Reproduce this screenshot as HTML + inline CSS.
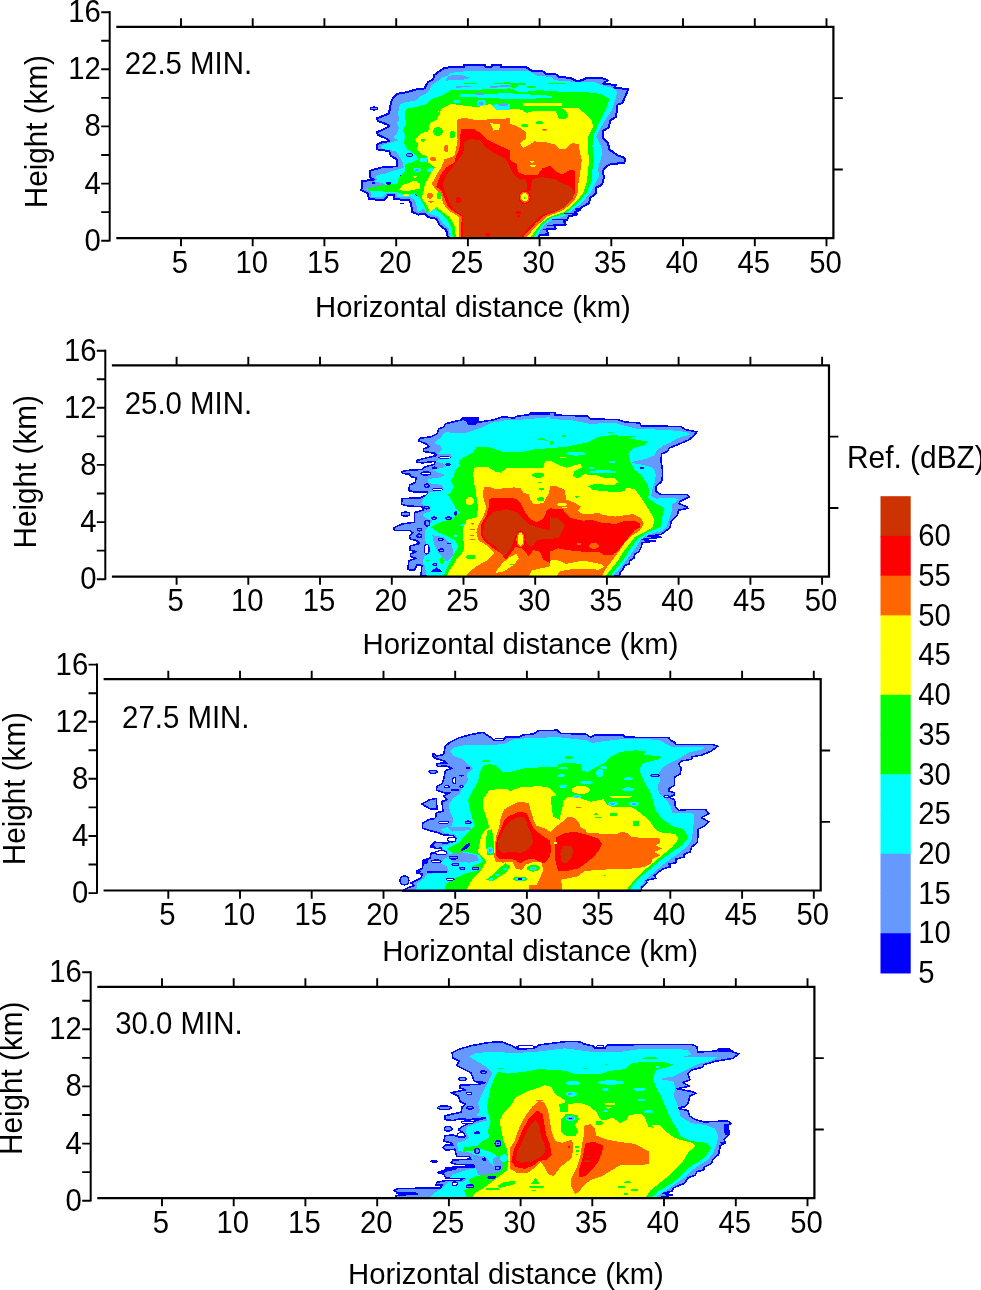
<!DOCTYPE html>
<html><head><meta charset="utf-8"><title>Radar reflectivity</title>
<style>html,body{margin:0;padding:0;background:#fff}svg{display:block}text{font-family:"Liberation Sans",sans-serif;font-size:29.3px;fill:#000}</style>
</head><body>
<svg width="981" height="1290" viewBox="0 0 981 1290">
<rect width="981" height="1290" fill="#fff"/>
<g id="panel1">
<g shape-rendering="crispEdges">
<path d="M444.6 67.7L464.2 66.7L464.2 64.8L485.4 64.8L485.4 66.7L491.9 66.7L491.9 64.5L500.9 64.5L500.9 66.7L510.0 67.2L526.3 67.2L531.2 70.5L542.6 71.3L545.9 73.8L557.3 74.6L558.9 77.0L570.3 77.8L576.9 81.1L581.8 80.3L586.7 77.8L601.3 77.8L607.9 80.3L603.0 83.5L616.0 85.2L614.4 87.6L628.2 89.3L624.2 99.0L622.5 103.1L617.6 104.7L616.0 117.0L610.3 120.2L608.7 127.6L603.0 130.8L603.0 138.2L607.9 143.1L609.5 149.6L617.6 155.3L624.2 157.8L625.0 160.0L625.0 160.0L624.2 162.9L611.1 164.1L606.2 166.5L603.0 170.6L603.8 177.9L602.2 184.5L596.4 187.7L595.6 193.4L589.9 198.3L589.1 203.2L581.8 207.3L580.1 209.7L575.2 212.2L576.9 214.6L568.7 216.3L567.1 220.3L563.8 221.2L565.5 224.4L554.0 225.2L555.7 228.5L546.7 229.3L548.3 234.2L539.4 235.0L538.5 238.0L447.9 238.0L446.2 230.1L439.7 225.2L436.4 218.7L428.3 217.1L425.0 213.8L418.5 214.6L412.8 212.2L412.0 212.0L411.2 203.2L408.7 200.0L394.0 199.2L394.0 195.1L388.3 195.1L384.3 200.0L368.8 199.2L367.9 193.4L361.4 190.2L362.2 181.2L373.6 179.6L369.6 177.1L370.4 170.6L382.6 167.3L397.3 166.5L396.5 159.2L390.8 155.9L389.1 151.0L376.9 149.4L376.9 144.5L382.6 142.1L389.1 141.3L388.3 139.6L377.7 134.7L376.9 132.3L382.6 129.8L389.1 126.6L388.3 124.9L377.7 120.9L376.9 118.4L382.6 116.0L389.1 113.5L390.0 107.0L390.0 108.8L390.8 102.3L393.2 97.4L397.3 93.8L403.8 92.8L411.2 90.9L416.9 89.3L425.0 88.4L425.8 85.2L428.3 81.9L433.2 79.5L434.0 75.4L438.1 72.1Z" fill="#6699ff" stroke="#0000ff" stroke-width="2.0" stroke-linejoin="round"/>
<ellipse cx="374.1" cy="108.5" rx="3.6" ry="1.3" fill="#6699ff" stroke="#0000ff" stroke-width="1.5"/>
<ellipse cx="402.2" cy="203.7" rx="2.4" ry="0.5" fill="#0000ff"/>
<path d="M510.0 70.5L464.2 71.3L451.1 72.9L447.9 75.4L441.3 77.8L438.1 81.1L431.5 85.2L429.9 89.3L426.7 93.3L420.1 96.6L415.2 100.7L405.5 102.3L400.6 103.9L398.9 107.0L398.1 115.2L399.7 119.2L396.5 123.3L398.9 128.2L397.3 133.1L393.2 137.2L398.1 140.4L382.6 144.8L380.2 147.0L382.6 149.1L395.7 151.0L398.9 155.9L402.2 160.8L403.8 167.3L397.3 169.8L384.3 169.8L372.8 172.2L372.0 176.3L377.7 178.8L374.5 182.0L365.5 183.7L364.7 188.5L370.4 191.0L371.2 196.7L382.6 197.5L386.7 192.6L396.5 192.6L397.3 197.5L410.3 196.7L415.2 200.8L416.9 208.1L418.5 212.0L423.4 208.9L428.3 213.8L438.1 216.3L443.0 223.6L448.7 228.5L450.3 238.0L536.9 238.0L539.4 231.8L545.1 224.4L552.4 219.5L563.8 216.3L572.0 210.6L578.5 205.7L585.0 199.1L590.7 192.6L594.8 184.5L598.9 176.3L598.1 168.2L600.5 160.0L600.5 160.0L602.2 152.9L601.3 146.3L596.4 136.5L601.3 126.8L606.2 118.6L611.9 110.5L614.4 102.3L617.6 91.7L614.4 88.4L601.3 85.2L594.8 81.9L575.2 81.9L555.7 80.3L550.8 77.0L536.1 75.4L529.6 71.3L510.0 70.5Z" fill="#00ffff"/>
<path d="M371.2 171.4L382.6 168.2L396.5 167.3L397.3 169.8L390.8 171.4L385.1 173.9L378.5 174.7L374.5 177.5L372.0 176.3Z" fill="#6699ff"/>
<path d="M364.7 183.7L374.5 181.7L382.6 182.8L387.5 186.9L376.1 187.2L367.9 188.5L364.7 188.5Z" fill="#6699ff"/>
<ellipse cx="402.5" cy="176.3" rx="2.9" ry="1.3" fill="#0000ff"/>
<ellipse cx="388.7" cy="183.3" rx="2.9" ry="1.6" fill="#0000ff"/>
<ellipse cx="373.6" cy="182.8" rx="1.6" ry="1.0" fill="#0000ff"/>
<ellipse cx="416.5" cy="194.7" rx="1.6" ry="1.0" fill="#0000ff"/>
<path d="M447.9 75.7L460.9 74.9L470.7 77.8L464.2 79.5L451.1 79.5L445.4 81.1Z" fill="#6699ff"/>
<path d="M456.0 86.0L470.7 85.7L470.7 87.3L456.0 87.6Z" fill="#6699ff"/>
<path d="M490.3 85.7L510.0 85.3L510.0 87.3L490.3 87.6Z" fill="#6699ff"/>
<path d="M464.2 83.4L477.2 83.1L477.2 84.4L464.2 84.5Z" fill="#00ff00"/>
<path d="M493.5 82.7L510.0 82.4L510.0 84.0L493.5 84.4Z" fill="#00ff00"/>
<path d="M510.0 83.1L524.7 83.4L524.7 84.5L510.0 84.5Z" fill="#00ff00"/>
<path d="M547.5 82.7L565.5 83.1L565.5 84.4L547.5 84.4Z" fill="#00ff00"/>
<ellipse cx="530.9" cy="87.1" rx="3.9" ry="1.3" fill="#00ff00"/>
<ellipse cx="514.1" cy="86.3" rx="4.1" ry="1.3" fill="#00ff00"/>
<path d="M510.0 88.4L488.6 89.3L464.2 90.1L451.1 90.1L441.3 95.8L431.5 99.0L426.7 103.9L415.2 107.2L406.3 108.8L406.3 107.0L404.6 115.2L406.3 123.3L403.0 129.8L405.5 136.4L403.8 142.9L407.1 149.4L415.2 154.3L418.5 159.2L412.0 162.5L405.5 164.1L404.6 172.2L398.9 177.1L397.3 183.7L382.6 185.3L367.9 188.5L368.8 191.0L390.8 191.8L398.9 192.6L403.8 195.1L415.2 193.4L420.1 198.3L423.4 204.9L426.7 212.0L434.8 208.9L441.3 213.8L447.9 220.3L451.9 228.5L452.8 238.0L533.6 238.0L536.9 231.8L543.4 223.6L550.8 217.9L565.5 213.8L573.6 206.5L580.1 200.8L586.7 192.6L591.5 181.2L592.4 169.8L594.0 160.0L594.0 160.0L592.4 146.3L593.2 136.5L598.1 125.1L601.3 118.6L606.2 108.8L609.5 99.0L601.3 94.1L583.4 91.7L558.9 91.7L539.4 90.1L519.8 92.5L510.0 88.4Z" fill="#00ff00"/>
<path d="M458.5 94.1L510.0 93.3L552.4 95.8L552.4 98.2L510.0 99.0L458.5 96.6Z" fill="#00ffff"/>
<ellipse cx="479.7" cy="94.1" rx="4.9" ry="0.8" fill="#6699ff"/>
<ellipse cx="456.8" cy="101.5" rx="3.6" ry="1.6" fill="#00ffff"/>
<ellipse cx="481.3" cy="103.1" rx="4.4" ry="3.6" fill="#00ffff"/>
<ellipse cx="481.3" cy="103.4" rx="2.4" ry="2.0" fill="#6699ff"/>
<path d="M491.9 104.7L510.0 103.6L510.0 109.6L495.2 109.6Z" fill="#00ffff"/>
<ellipse cx="503.3" cy="104.7" rx="4.9" ry="1.3" fill="#6699ff"/>
<ellipse cx="409.5" cy="155.1" rx="5.2" ry="2.6" fill="#00ffff"/>
<ellipse cx="409.5" cy="155.1" rx="3.3" ry="1.5" fill="#6699ff" stroke="#0000ff" stroke-width="1"/>
<ellipse cx="423.4" cy="160.0" rx="4.1" ry="2.4" fill="#00ffff"/>
<ellipse cx="416.9" cy="169.8" rx="4.1" ry="2.0" fill="#00ffff"/>
<ellipse cx="416.9" cy="169.8" rx="2.3" ry="1.0" fill="#6699ff"/>
<ellipse cx="430.7" cy="170.3" rx="4.1" ry="2.0" fill="#00ffff"/>
<path d="M510.0 109.6L496.8 110.5L490.3 103.9L477.2 107.2L464.2 105.6L451.1 103.9L441.3 108.8L438.9 117.0L438.1 107.0L438.9 115.2L436.4 120.0L429.9 123.3L428.3 131.5L421.8 133.1L415.2 139.6L418.5 144.5L416.9 149.4L421.8 154.3L426.7 155.9L428.3 162.5L434.8 167.3L431.5 172.2L428.3 178.8L425.0 183.7L423.4 191.8L421.8 198.3L426.7 204.9L429.9 212.0L436.4 207.3L443.0 212.2L449.5 217.1L454.4 225.2L456.0 238.0L530.4 238.0L534.5 231.8L541.8 222.8L549.1 217.1L563.8 212.2L570.3 207.3L578.5 199.1L583.4 192.6L586.7 182.8L588.0 171.4L589.1 160.0L589.1 160.0L587.5 146.3L588.3 136.5L593.2 126.8L591.5 120.2L586.7 115.3L578.5 108.0L560.6 108.0L565.5 110.5L568.7 115.3L565.5 118.6L558.9 118.6L555.7 111.3L536.1 110.5L526.3 112.9L521.4 109.6L510.0 108.8Z" fill="#ffff00"/>
<path d="M402.2 185.3L415.2 180.4L420.1 183.7L420.1 188.5L407.1 191.0L398.9 190.2Z" fill="#ffff00"/>
<path d="M523.0 103.1L562.2 103.4L562.2 105.6L523.0 105.6Z" fill="#ffff00"/>
<ellipse cx="415.2" cy="176.8" rx="2.4" ry="0.8" fill="#ffff00"/>
<ellipse cx="406.3" cy="195.1" rx="3.3" ry="1.0" fill="#ffff00"/>
<ellipse cx="438.1" cy="131.5" rx="4.9" ry="4.6" fill="#00ff00"/>
<ellipse cx="452.4" cy="134.7" rx="2.9" ry="3.6" fill="#00ff00"/>
<ellipse cx="423.1" cy="140.4" rx="2.4" ry="1.3" fill="#00ff00"/>
<ellipse cx="539.4" cy="122.7" rx="3.6" ry="1.6" fill="#00ff00"/>
<ellipse cx="524.7" cy="125.6" rx="3.3" ry="1.6" fill="#00ff00"/>
<ellipse cx="544.3" cy="129.7" rx="2.9" ry="1.0" fill="#ff6600"/>
<path d="M457.6 119.2L456.8 129.8L457.6 139.6L456.0 149.4L454.4 155.9L444.6 159.2L441.3 167.3L438.1 172.2L434.8 178.8L431.5 183.7L436.4 190.2L441.3 195.1L443.0 203.2L447.9 209.8L451.1 212.0L454.4 213.8L459.3 217.1L458.5 225.2L459.3 238.0L526.3 238.0L531.2 231.8L539.4 223.6L547.5 216.3L562.2 210.6L568.7 205.7L575.2 199.1L577.7 192.6L578.5 182.8L580.1 173.0L581.8 160.0L581.8 160.0L580.1 152.9L578.5 143.9L572.0 143.1L565.5 148.8L558.9 148.8L555.7 144.7L545.9 142.3L534.5 141.4L529.6 144.7L523.0 148.0L519.8 143.1L526.3 138.2L525.5 131.7L518.2 126.8L510.0 123.5L510.0 117.8L500.1 119.4L488.6 119.4L477.2 120.2L464.2 117.8Z" fill="#ff6600"/>
<path d="M490.3 123.3L500.1 124.1L499.2 129.8L493.5 130.6Z" fill="#ffff00"/>
<ellipse cx="446.2" cy="148.6" rx="2.1" ry="3.9" fill="#ff6600"/>
<ellipse cx="433.2" cy="159.2" rx="2.9" ry="2.3" fill="#ff6600"/>
<ellipse cx="429.9" cy="195.9" rx="2.9" ry="2.8" fill="#ff6600"/>
<ellipse cx="430.7" cy="201.6" rx="2.9" ry="1.0" fill="#ff6600"/>
<ellipse cx="438.9" cy="195.9" rx="2.3" ry="3.6" fill="#00ff00"/>
<path d="M460.9 129.0L460.1 139.6L459.3 149.4L456.0 155.9L454.4 162.5L446.2 167.3L441.3 173.9L438.1 180.4L436.4 186.9L441.3 190.2L444.6 198.3L447.9 206.5L454.4 212.0L457.6 213.8L462.5 217.1L460.9 225.2L460.9 238.0L522.2 238.0L527.9 231.8L536.1 222.8L544.6 215.5L558.9 210.2L566.3 205.3L572.5 198.8L574.9 192.6L575.2 179.6L574.4 169.5L570.3 169.8L562.2 174.7L555.7 171.4L550.8 165.7L542.6 168.2L537.7 174.7L526.3 175.5L518.2 172.2L516.5 164.1L510.0 160.0L510.0 150.2L496.8 144.5L487.0 139.6L480.5 133.1L474.0 129.0Z" fill="#ff0000"/>
<path d="M464.2 142.1L463.4 152.7L457.6 160.8L451.1 169.0L446.2 175.5L443.0 183.7L443.8 188.5L447.9 198.3L450.3 204.9L456.0 211.4L460.9 213.8L463.4 217.1L462.5 225.2L462.5 238.0L519.8 238.0L526.0 230.9L534.1 222.0L542.6 214.6L557.3 210.2L564.6 207.3L571.2 200.8L573.9 195.1L573.6 191.0L570.7 186.9L564.6 184.1L554.9 179.2L541.8 177.1L532.0 179.2L530.4 191.0L527.1 191.0L526.3 179.6L517.3 178.3L512.4 172.2L509.2 165.7L505.9 159.2L496.1 154.3L486.4 147.8L479.8 140.4L470.0 138.8Z" fill="#cc3300"/>
<ellipse cx="458.5" cy="200.0" rx="2.9" ry="2.8" fill="#ff0000"/>
<ellipse cx="487.8" cy="234.7" rx="2.6" ry="2.0" fill="#ff0000"/>
<ellipse cx="518.2" cy="212.5" rx="2.9" ry="2.0" fill="#ff0000"/>
<ellipse cx="518.5" cy="216.4" rx="1.6" ry="1.3" fill="#ff0000"/>
<ellipse cx="524.7" cy="197.2" rx="6.2" ry="6.9" fill="#ff0000"/>
<ellipse cx="524.7" cy="197.2" rx="4.9" ry="5.5" fill="#ff6600"/>
<ellipse cx="524.7" cy="197.2" rx="3.4" ry="3.9" fill="#ffff00"/>
<ellipse cx="524.7" cy="197.8" rx="0.8" ry="1.0" fill="#00ff00"/>
<ellipse cx="532.0" cy="161.6" rx="2.3" ry="1.1" fill="#ffff00"/>
<ellipse cx="532.8" cy="165.7" rx="2.9" ry="1.1" fill="#ffff00"/>
<path d="M552.4 218.9L567.9 219.0L567.9 220.0L552.4 220.2Z" fill="#0000ff"/>
<path d="M546.7 224.6L565.5 224.8L565.5 225.7L546.7 225.9Z" fill="#0000ff"/>
<path d="M543.4 228.7L555.7 228.8L555.7 229.8L543.4 230.0Z" fill="#0000ff"/>
<path d="M539.4 234.5L548.8 234.7L548.8 235.7L539.4 235.8Z" fill="#0000ff"/>
<path d="M563.8 213.2L577.7 213.3L577.7 214.3L563.8 214.5Z" fill="#0000ff"/>
<path d="M575.2 208.3L581.8 208.4L581.8 209.4L575.2 209.6Z" fill="#0000ff"/>
</g>
<g transform="translate(0 0)">
<path d="M109.7 11.2V241.4" stroke="#000" stroke-width="2" fill="none"/>
<path d="M101.2 12.2H109.7M101.2 40.8H109.7M101.2 69.3H109.7M101.2 97.9H109.7M101.2 126.4H109.7M101.2 155.0H109.7M101.2 183.6H109.7M101.2 212.1H109.7M101.2 240.7H109.7" stroke="#000" stroke-width="1.9" fill="none"/>
<path d="M116.3 26.8H833.4V238.1H116.3" stroke="#000" stroke-width="2.2" fill="none"/>
<path d="M181.0 18.3V26.8M181.0 238V246.3M252.7 18.3V26.8M252.7 238V246.3M324.4 18.3V26.8M324.4 238V246.3M396.2 18.3V26.8M396.2 238V246.3M467.9 18.3V26.8M467.9 238V246.3M539.6 18.3V26.8M539.6 238V246.3M611.3 18.3V26.8M611.3 238V246.3M683.0 18.3V26.8M683.0 238V246.3M754.8 18.3V26.8M754.8 238V246.3M826.5 18.3V26.8M826.5 238V246.3M833.4 98.1H842.8M833.4 169.5H842.8" stroke="#000" stroke-width="1.9" fill="none"/>
<text transform="translate(100.9 22.2) scale(1 1.065)" text-anchor="end">16</text>
<text transform="translate(100.9 79.3) scale(1 1.065)" text-anchor="end">12</text>
<text transform="translate(100.9 136.4) scale(1 1.065)" text-anchor="end">8</text>
<text transform="translate(100.9 193.6) scale(1 1.065)" text-anchor="end">4</text>
<text transform="translate(100.9 250.7) scale(1 1.065)" text-anchor="end">0</text>
<text transform="translate(180.0 272.9) scale(1 1.065)" text-anchor="middle">5</text>
<text transform="translate(251.7 272.9) scale(1 1.065)" text-anchor="middle">10</text>
<text transform="translate(323.4 272.9) scale(1 1.065)" text-anchor="middle">15</text>
<text transform="translate(395.2 272.9) scale(1 1.065)" text-anchor="middle">20</text>
<text transform="translate(466.9 272.9) scale(1 1.065)" text-anchor="middle">25</text>
<text transform="translate(538.6 272.9) scale(1 1.065)" text-anchor="middle">30</text>
<text transform="translate(610.3 272.9) scale(1 1.065)" text-anchor="middle">35</text>
<text transform="translate(682.0 272.9) scale(1 1.065)" text-anchor="middle">40</text>
<text transform="translate(753.8 272.9) scale(1 1.065)" text-anchor="middle">45</text>
<text transform="translate(825.5 272.9) scale(1 1.065)" text-anchor="middle">50</text>
</g>
<text transform="translate(124.7 74.1) scale(1.003 1.075)">22.5 MIN.</text>
<text x="472.9" y="316.7" text-anchor="middle">Horizontal distance (km)</text>
<text transform="translate(46.5 131.6) rotate(-90) scale(1.012 1.075)" text-anchor="middle">Height (km)</text>
</g>
<g id="panel2">
<g shape-rendering="crispEdges">
<path d="M550.0 412.3L530.3 412.8L528.6 414.8L517.2 416.1L514.0 418.0L502.5 416.7L494.4 419.7L484.6 421.3L478.9 422.1L478.1 417.7L462.6 417.7L461.8 420.0L455.2 421.3L445.5 423.8L443.8 427.0L438.9 428.6L437.3 433.5L430.8 436.8L419.4 438.4L418.5 440.9L425.1 443.3L429.1 446.6L423.4 449.0L423.4 451.5L434.0 453.1L436.5 455.6L422.6 458.8L416.9 460.5L416.9 462.1L422.6 462.9L435.7 461.3L434.0 464.5L424.3 467.0L422.6 469.4L409.6 470.2L401.4 471.5L403.0 473.5L409.6 474.3L411.2 476.8L416.1 477.6L415.3 482.5L409.6 484.9L408.8 490.6L416.1 492.3L427.5 492.1L427.5 494.6L420.2 497.8L402.2 498.6L401.4 504.4L407.9 506.0L422.6 506.8L423.4 510.1L414.5 512.5L414.5 522.3L402.2 523.9L393.3 528.0L394.9 530.5L409.6 530.5L412.8 532.9L409.6 536.2L410.4 539.4L416.1 540.2L419.4 543.5L410.4 545.9L409.6 550.0L416.1 551.7L410.4 554.1L410.4 556.5L416.1 558.2L408.8 560.6L407.9 569.6L414.5 570.4L416.9 564.7L421.8 565.5L421.0 576.1L619.3 576.1L620.1 572.9L622.6 569.6L625.0 565.5L629.1 563.9L629.9 560.6L634.0 558.2L634.8 554.1L638.9 551.7L641.3 546.8L642.2 542.7L655.2 541.1L641.3 539.4L660.9 537.3L647.9 536.2L660.9 534.5L664.2 532.1L669.9 528.0L671.5 520.7L677.2 515.0L678.8 510.1L687.8 508.4L687.0 506.8L678.8 503.5L680.5 501.1L689.4 497.0L687.0 494.6L660.9 494.6L656.0 491.3L656.0 486.4L661.7 481.5L662.5 475.0L662.5 470.2L660.9 460.5L661.7 453.9L667.4 451.5L669.1 448.2L678.8 444.1L688.6 440.1L693.5 436.0L696.8 431.9L685.4 429.5L680.5 426.5L641.3 425.9L639.7 422.9L625.0 422.1L618.5 419.7L590.8 418.9L587.5 416.1L554.9 415.1L554.9 412.8L550.0 412.3Z" fill="#6699ff" stroke="#0000ff" stroke-width="1.6" stroke-linejoin="round"/>
<ellipse cx="405.5" cy="514.1" rx="4.1" ry="2.0" fill="#6699ff" stroke="#0000ff" stroke-width="1.5"/>
<path d="M550.0 417.2L520.5 419.7L504.2 420.5L491.1 422.9L481.3 427.8L466.7 432.7L456.9 433.5L445.5 431.9L440.6 437.6L434.0 443.3L440.6 445.8L442.2 449.9L437.3 453.9L450.3 453.9L452.0 457.2L440.6 459.6L435.7 461.3L443.8 463.7L445.5 467.0L438.9 468.6L432.4 470.2L440.6 473.5L445.5 475.1L438.9 477.6L427.5 479.2L429.1 483.3L442.2 484.9L443.8 489.8L430.8 492.3L429.1 492.9L425.1 496.2L421.0 503.5L428.3 506.8L431.6 510.9L422.6 514.1L424.3 517.4L432.4 520.7L429.1 525.6L425.1 530.5L425.1 540.2L427.5 546.8L430.8 551.7L424.3 556.5L422.6 561.4L425.1 568.0L426.7 576.1L613.6 576.1L615.2 572.9L621.8 566.3L626.7 559.8L631.5 553.3L636.4 546.8L640.5 540.2L647.9 534.5L660.9 531.3L666.6 527.2L669.1 519.0L671.5 512.5L672.3 504.4L678.8 499.5L674.0 497.8L656.0 498.6L651.1 496.2L651.9 491.3L654.4 483.2L656.0 475.0L654.4 470.2L651.1 467.0L641.3 464.5L631.5 462.9L634.8 461.3L646.2 458.8L654.4 455.6L656.0 451.5L662.5 445.8L670.7 442.5L677.2 438.4L690.3 434.4L685.4 431.9L670.7 430.3L636.4 428.6L623.4 425.4L615.2 422.9L589.1 423.8L572.8 420.5L550.0 418.9Z" fill="#00ffff"/>
<path d="M432.4 535.3L443.8 537.0L452.0 545.1L453.6 554.9L447.1 561.4L438.9 553.3L434.0 543.5Z" fill="#6699ff"/>
<path d="M631.5 462.9L641.3 460.5L654.4 455.6L657.6 458.8L656.0 467.0L651.1 467.0L641.3 464.5Z" fill="#6699ff"/>
<path d="M550.0 448.2L536.8 449.0L520.5 452.3L504.2 452.3L494.4 449.0L487.9 446.6L476.4 447.4L473.2 452.3L463.4 457.2L458.5 461.3L460.1 465.3L455.2 470.2L453.6 476.8L450.3 480.0L453.6 486.5L450.3 493.1L447.9 494.6L452.0 501.1L455.2 507.6L460.1 512.5L452.0 519.0L440.6 522.3L430.8 527.2L437.3 532.1L445.5 535.3L455.2 540.2L458.5 546.8L455.2 551.7L452.0 558.2L448.7 564.7L445.5 571.2L443.8 576.1L610.3 576.1L616.9 568.0L623.4 559.8L628.3 551.7L633.2 545.1L638.1 538.6L647.9 532.1L660.9 527.2L662.5 515.8L664.2 507.6L654.4 502.7L647.9 497.8L649.5 492.9L647.9 484.8L641.3 475.0L634.8 470.2L629.9 460.5L628.3 453.9L633.2 448.2L644.6 445.0L647.9 441.7L628.3 438.4L638.1 436.0L626.7 436.0L612.0 435.2L598.9 436.8L587.5 442.5L566.3 446.6L550.0 448.2Z" fill="#00ff00"/>
<path d="M535.2 439.3L541.7 438.1L550.0 441.2L550.0 445.0L540.1 443.8L550.0 445.0L554.9 443.3L552.4 441.2L550.0 441.2Z" fill="#00ff00"/>
<ellipse cx="563.9" cy="436.0" rx="2.4" ry="1.0" fill="#00ff00"/>
<ellipse cx="610.3" cy="432.4" rx="2.9" ry="0.7" fill="#00ff00"/>
<ellipse cx="576.1" cy="453.6" rx="9.8" ry="2.0" fill="#00ffff"/>
<ellipse cx="612.0" cy="461.8" rx="3.6" ry="1.3" fill="#00ffff"/>
<ellipse cx="591.6" cy="467.8" rx="2.9" ry="1.0" fill="#00ffff"/>
<ellipse cx="603.0" cy="471.9" rx="13.9" ry="1.6" fill="#00ffff"/>
<ellipse cx="462.6" cy="525.2" rx="2.4" ry="1.3" fill="#00ffff"/>
<ellipse cx="455.7" cy="535.7" rx="2.0" ry="1.3" fill="#00ffff"/>
<ellipse cx="427.5" cy="560.6" rx="2.0" ry="1.0" fill="#00ff00"/>
<ellipse cx="442.2" cy="560.6" rx="2.4" ry="3.3" fill="#00ff00"/>
<path d="M550.0 460.5L544.9 461.3L543.3 467.8L528.6 467.8L507.4 467.8L500.9 472.7L496.0 471.9L487.9 467.0L474.8 467.0L473.2 473.5L474.0 483.3L476.4 493.1L476.4 496.2L478.1 507.6L476.4 517.4L466.7 519.9L463.4 527.2L463.4 540.2L464.2 548.4L461.8 553.3L456.9 558.2L453.6 564.7L448.7 571.2L447.1 576.1L605.5 576.1L612.0 568.0L618.5 559.8L623.4 551.7L629.9 543.5L634.8 537.0L644.6 532.1L652.8 527.2L654.4 519.0L649.5 510.9L644.6 502.7L638.9 494.6L634.8 488.9L626.7 488.0L618.5 481.5L615.2 478.4L603.8 477.6L595.7 475.1L584.3 474.3L577.7 478.4L572.8 475.9L574.5 471.1L581.8 467.8L581.0 463.7L574.5 465.3L566.3 467.8L559.8 465.3L550.0 460.5Z" fill="#ffff00"/>
<ellipse cx="469.9" cy="501.1" rx="4.1" ry="4.1" fill="#ffff00"/>
<ellipse cx="563.0" cy="457.7" rx="3.3" ry="0.8" fill="#ffff00"/>
<path d="M588.3 486.4L594.0 484.0L613.6 485.1L618.5 482.3L626.7 487.2L625.0 490.5L620.1 492.1L603.8 491.3L592.4 489.7Z" fill="#00ff00"/>
<ellipse cx="576.9" cy="496.7" rx="2.0" ry="1.0" fill="#00ff00"/>
<ellipse cx="470.7" cy="557.0" rx="4.9" ry="2.4" fill="#00ff00"/>
<ellipse cx="538.4" cy="475.1" rx="6.2" ry="2.6" fill="#00ff00"/>
<ellipse cx="540.1" cy="482.5" rx="2.4" ry="1.0" fill="#00ff00"/>
<ellipse cx="541.7" cy="489.3" rx="2.9" ry="1.3" fill="#00ff00"/>
<ellipse cx="540.9" cy="499.3" rx="3.6" ry="2.0" fill="#00ff00"/>
<ellipse cx="472.4" cy="523.9" rx="2.3" ry="0.7" fill="#ff6600"/>
<ellipse cx="472.4" cy="529.6" rx="2.3" ry="0.7" fill="#ff6600"/>
<ellipse cx="472.4" cy="535.3" rx="2.3" ry="0.7" fill="#ff6600"/>
<ellipse cx="472.4" cy="539.4" rx="2.3" ry="0.7" fill="#ff6600"/>
<path d="M483.8 486.5L487.9 486.5L496.0 489.0L514.0 487.4L520.5 488.2L523.7 493.1L528.6 493.9L530.3 499.6L533.5 504.5L543.3 502.9L549.0 493.1L550.0 486.4L554.9 485.6L564.7 489.7L566.3 499.5L574.5 502.7L581.0 506.8L577.7 510.9L582.6 514.1L592.4 514.1L597.3 512.5L603.8 515.0L615.2 516.6L626.7 515.0L633.2 514.1L641.3 518.2L643.8 523.9L639.7 530.5L632.4 535.3L625.4 541.9L620.1 550.0L615.2 556.5L610.3 563.1L605.5 568.8L602.2 576.1L466.7 576.1L468.3 572.9L476.4 566.3L487.9 559.8L494.4 553.3L486.2 545.1L478.1 540.2L476.4 532.1L478.9 523.9L483.0 517.4L486.2 507.6L483.0 496.2Z" fill="#ff6600"/>
<path d="M528.6 576.1L531.9 570.4L550.0 566.3L550.0 560.6L556.5 559.8L566.3 563.9L582.6 560.6L600.6 563.9L604.6 566.3L598.9 569.6L574.5 568.8L559.8 571.2L556.5 576.1Z" fill="#ffff00"/>
<path d="M496.0 572.9L496.0 571.2L502.5 563.1L510.7 556.5L516.4 554.1L518.8 558.2L514.0 564.7L504.2 571.2Z" fill="#ffff00"/>
<ellipse cx="562.2" cy="504.4" rx="4.9" ry="1.6" fill="#ffff00"/>
<ellipse cx="564.7" cy="507.6" rx="2.4" ry="0.8" fill="#ffff00"/>
<ellipse cx="512.3" cy="564.7" rx="2.0" ry="0.7" fill="#00ff00"/>
<path d="M489.5 498.6L504.2 497.8L515.6 498.6L520.5 503.5L525.4 512.5L530.3 519.0L536.8 522.3L543.3 519.0L546.6 510.9L550.0 508.4L550.0 508.4L563.0 509.3L566.3 514.1L571.2 518.2L582.6 520.7L592.4 519.9L598.9 522.3L615.2 523.9L623.4 521.5L634.8 520.7L639.7 523.1L640.5 527.2L634.5 530.5L628.8 537.0L623.7 543.5L618.5 550.0L612.8 554.9L603.8 554.9L598.9 551.7L582.6 551.7L566.3 550.0L558.2 548.4L550.0 551.7L550.0 563.1L543.3 559.8L540.1 551.7L533.5 550.0L528.6 556.5L525.4 551.7L520.5 546.8L515.6 546.8L510.7 553.3L505.8 559.8L500.9 553.3L491.1 546.8L483.8 540.2L480.5 533.7L481.3 523.9L486.2 515.8L488.7 507.6Z" fill="#ff0000"/>
<ellipse cx="594.0" cy="545.9" rx="4.9" ry="2.9" fill="#ff6600"/>
<ellipse cx="579.0" cy="544.3" rx="2.0" ry="1.3" fill="#ff6600"/>
<path d="M494.4 511.7L507.4 509.3L517.2 512.5L523.7 519.0L528.6 523.9L536.8 527.2L550.0 530.5L550.0 517.4L558.2 518.2L561.4 522.3L564.7 525.6L561.4 532.1L559.8 537.0L550.0 539.4L550.0 539.4L546.6 538.6L536.8 540.2L531.9 546.8L527.0 543.5L525.4 533.7L520.5 531.3L515.6 535.3L514.0 540.2L510.7 548.4L504.2 556.5L496.0 546.8L487.9 541.9L483.0 535.3L483.8 525.6L487.9 517.4Z" fill="#cc3300"/>
<ellipse cx="520.5" cy="539.4" rx="4.9" ry="9.0" fill="#ff0000"/>
<ellipse cx="520.5" cy="539.4" rx="4.1" ry="7.8" fill="#ff6600"/>
<ellipse cx="520.5" cy="539.4" rx="2.9" ry="6.5" fill="#ffff00"/>
<g fill="#fff">
<ellipse cx="444.6" cy="457.5" rx="5.7" ry="0.8" stroke="#0000ff" stroke-width="1.2"/>
<ellipse cx="425.9" cy="473.5" rx="4.9" ry="1.6" stroke="#0000ff" stroke-width="1.2"/>
<ellipse cx="437.3" cy="489.5" rx="4.9" ry="0.8" stroke="#0000ff" stroke-width="1.2"/>
<ellipse cx="434.4" cy="467.8" rx="2.0" ry="0.8" stroke="#0000ff" stroke-width="1.2"/>
<ellipse cx="426.7" cy="549.2" rx="2.4" ry="4.9" stroke="#0000ff" stroke-width="1.2"/>
</g>
<ellipse cx="447.9" cy="464.5" rx="2.9" ry="1.3" fill="#0000ff"/>
<ellipse cx="426.7" cy="485.7" rx="2.4" ry="1.6" fill="#6699ff" stroke="#0000ff" stroke-width="1.4"/>
<ellipse cx="426.7" cy="507.6" rx="2.4" ry="1.3" fill="#6699ff" stroke="#0000ff" stroke-width="1.4"/>
<ellipse cx="434.0" cy="518.2" rx="2.4" ry="1.1" fill="#6699ff" stroke="#0000ff" stroke-width="1.4"/>
<ellipse cx="448.7" cy="518.2" rx="2.9" ry="1.1" fill="#6699ff" stroke="#0000ff" stroke-width="1.4"/>
<ellipse cx="427.2" cy="523.1" rx="2.4" ry="2.9" fill="#6699ff" stroke="#0000ff" stroke-width="1.4"/>
<ellipse cx="419.4" cy="529.6" rx="2.0" ry="1.3" fill="#6699ff" stroke="#0000ff" stroke-width="1.4"/>
<ellipse cx="419.4" cy="535.7" rx="2.4" ry="1.6" fill="#6699ff" stroke="#0000ff" stroke-width="1.4"/>
<ellipse cx="440.6" cy="539.4" rx="2.4" ry="1.1" fill="#6699ff" stroke="#0000ff" stroke-width="1.4"/>
<ellipse cx="441.4" cy="550.4" rx="2.4" ry="1.3" fill="#6699ff" stroke="#0000ff" stroke-width="1.4"/>
<ellipse cx="434.9" cy="564.7" rx="2.0" ry="1.1" fill="#6699ff" stroke="#0000ff" stroke-width="1.4"/>
<ellipse cx="455.7" cy="513.3" rx="1.6" ry="2.3" fill="#0000ff"/>
<ellipse cx="448.7" cy="543.5" rx="2.0" ry="1.0" fill="#0000ff"/>
<path d="M430.0 572.0L436.5 567.2L443.0 572.0Z" fill="#0000ff"/>
<ellipse cx="642.2" cy="467.8" rx="2.4" ry="1.0" fill="#0000ff"/>
<path d="M462.6 417.7L478.1 417.7L478.9 422.1L474.8 425.4L468.3 425.4L466.7 422.1L462.6 420.0Z" fill="#0000ff"/>
<path d="M530.3 412.5L550.0 412.2L550.0 414.5L530.3 414.8Z" fill="#0000ff"/>
</g>
<g transform="translate(-4.4 338.5)">
<path d="M109.7 11.2V241.4" stroke="#000" stroke-width="2" fill="none"/>
<path d="M101.2 12.2H109.7M101.2 40.8H109.7M101.2 69.3H109.7M101.2 97.9H109.7M101.2 126.4H109.7M101.2 155.0H109.7M101.2 183.6H109.7M101.2 212.1H109.7M101.2 240.7H109.7" stroke="#000" stroke-width="1.9" fill="none"/>
<path d="M116.3 26.8H833.4V238.1H116.3" stroke="#000" stroke-width="2.2" fill="none"/>
<path d="M181.0 18.3V26.8M181.0 238V246.3M252.7 18.3V26.8M252.7 238V246.3M324.4 18.3V26.8M324.4 238V246.3M396.2 18.3V26.8M396.2 238V246.3M467.9 18.3V26.8M467.9 238V246.3M539.6 18.3V26.8M539.6 238V246.3M611.3 18.3V26.8M611.3 238V246.3M683.0 18.3V26.8M683.0 238V246.3M754.8 18.3V26.8M754.8 238V246.3M826.5 18.3V26.8M826.5 238V246.3M833.4 98.1H842.8M833.4 169.5H842.8" stroke="#000" stroke-width="1.9" fill="none"/>
<text transform="translate(100.9 22.2) scale(1 1.065)" text-anchor="end">16</text>
<text transform="translate(100.9 79.3) scale(1 1.065)" text-anchor="end">12</text>
<text transform="translate(100.9 136.4) scale(1 1.065)" text-anchor="end">8</text>
<text transform="translate(100.9 193.6) scale(1 1.065)" text-anchor="end">4</text>
<text transform="translate(100.9 250.7) scale(1 1.065)" text-anchor="end">0</text>
<text transform="translate(180.0 272.9) scale(1 1.065)" text-anchor="middle">5</text>
<text transform="translate(251.7 272.9) scale(1 1.065)" text-anchor="middle">10</text>
<text transform="translate(323.4 272.9) scale(1 1.065)" text-anchor="middle">15</text>
<text transform="translate(395.2 272.9) scale(1 1.065)" text-anchor="middle">20</text>
<text transform="translate(466.9 272.9) scale(1 1.065)" text-anchor="middle">25</text>
<text transform="translate(538.6 272.9) scale(1 1.065)" text-anchor="middle">30</text>
<text transform="translate(610.3 272.9) scale(1 1.065)" text-anchor="middle">35</text>
<text transform="translate(682.0 272.9) scale(1 1.065)" text-anchor="middle">40</text>
<text transform="translate(753.8 272.9) scale(1 1.065)" text-anchor="middle">45</text>
<text transform="translate(825.5 272.9) scale(1 1.065)" text-anchor="middle">50</text>
</g>
<text transform="translate(124.7 413.8) scale(1.003 1.075)">25.0 MIN.</text>
<text x="520.5" y="654.0" text-anchor="middle">Horizontal distance (km)</text>
<text transform="translate(35.9 471.8) rotate(-90) scale(1.012 1.075)" text-anchor="middle">Height (km)</text>
</g>
<g id="panel3">
<g shape-rendering="crispEdges">
<path d="M558.0 730.2L538.3 730.7L533.4 734.0L523.6 734.8L518.7 737.2L505.6 736.7L504.0 739.7L494.2 740.5L489.3 736.4L482.8 732.3L469.8 734.8L458.3 738.0L450.2 742.1L445.3 746.2L443.7 754.4L437.1 756.0L433.1 753.5L432.3 755.2L435.5 758.4L443.7 760.9L446.9 763.3L442.0 762.8L436.3 764.1L438.0 766.6L445.3 765.8L451.8 768.2L445.3 770.7L443.7 778.8L442.0 783.7L437.1 786.2L436.3 790.2L443.7 792.7L450.2 792.7L443.7 795.9L446.9 800.0L442.0 801.4L442.9 811.2L436.3 812.8L435.5 818.5L429.0 819.4L422.5 823.4L422.5 828.3L430.6 830.8L437.1 832.4L443.7 834.9L453.5 835.7L455.9 838.9L446.9 843.0L434.7 842.2L430.6 846.3L436.3 848.7L441.2 847.9L442.0 852.8L431.4 852.8L429.8 858.5L423.3 860.1L422.5 868.3L416.8 870.7L416.8 873.2L422.5 874.0L420.8 878.1L414.3 881.3L411.0 883.0L414.3 885.4L407.8 887.9L402.1 890.8L641.2 890.8L642.0 887.0L646.9 883.0L646.1 880.5L655.9 878.1L654.2 875.6L662.4 869.1L670.5 866.7L668.9 864.2L676.2 862.6L675.4 859.3L684.4 856.9L683.6 854.4L690.1 852.0L691.7 847.1L697.4 842.2L698.3 829.1L704.8 825.9L708.9 821.8L701.5 817.7L708.9 813.6L705.6 809.6L686.8 809.6L678.7 810.4L675.4 807.1L674.6 799.8L668.9 797.3L674.6 794.9L674.6 792.7L668.9 791.1L668.9 788.6L674.6 785.3L674.6 777.2L680.3 773.9L681.1 768.2L678.7 764.1L682.0 760.9L691.7 759.3L691.7 756.8L701.5 755.2L711.3 751.1L717.8 746.2L712.9 744.6L675.4 744.6L674.6 742.1L670.5 740.5L668.9 737.7L624.9 737.2L623.2 735.1L595.5 734.8L590.6 737.2L585.7 734.0L561.3 733.5L558.0 731.5Z" fill="#6699ff" stroke="#0000ff" stroke-width="1.6" stroke-linejoin="round"/>
<ellipse cx="433.1" cy="771.8" rx="4.1" ry="1.5" fill="#6699ff" stroke="#0000ff" stroke-width="1.4"/>
<path d="M421.6 804.1L429.0 800.0L436.3 798.4L437.1 809.0L430.6 809.0Z" fill="#6699ff" stroke="#0000ff" stroke-width="1.5" stroke-linejoin="round"/>
<ellipse cx="404.5" cy="880.5" rx="4.4" ry="4.4" fill="#6699ff" stroke="#0000ff" stroke-width="1.6"/>
<path d="M558.0 737.2L528.5 738.0L512.2 739.7L504.0 743.8L489.3 745.4L476.3 744.6L463.2 745.4L455.1 747.0L450.2 751.1L453.5 756.0L463.2 759.3L469.8 765.8L473.0 769.0L466.5 773.9L468.1 780.5L463.2 787.0L460.0 793.5L453.5 798.2L448.6 804.7L450.2 812.8L453.5 819.4L451.8 825.9L440.4 829.1L445.3 833.2L455.1 834.0L457.5 838.9L448.6 844.6L440.4 846.3L445.3 851.2L450.2 855.2L445.3 858.5L440.4 863.4L446.9 866.7L448.6 871.5L427.4 874.0L424.1 878.1L417.6 883.0L415.9 890.8L638.7 890.8L640.4 886.2L647.4 878.1L656.7 869.9L667.3 861.4L677.1 854.4L686.8 847.1L691.4 840.6L693.0 830.8L693.7 822.6L694.2 813.6L672.2 812.8L670.5 806.3L665.6 798.2L659.1 793.5L657.5 787.0L659.9 780.5L659.1 772.3L664.0 766.6L672.2 761.7L682.0 756.8L688.5 752.7L701.5 749.5L704.8 747.0L672.2 747.0L665.6 743.8L659.1 739.7L623.2 738.9L603.7 741.3L592.3 742.9L587.4 740.5L558.0 737.2Z" fill="#00ffff"/>
<path d="M446.9 826.7L469.8 826.7L471.4 830.0L451.8 831.6Z" fill="#6699ff"/>
<path d="M446.9 855.2L460.0 852.0L476.3 855.2L479.5 860.1L469.8 862.6L451.8 861.8Z" fill="#6699ff"/>
<path d="M458.3 843.8L469.8 838.9L474.7 842.2L466.5 850.3L460.0 852.0Z" fill="#6699ff"/>
<path d="M558.0 767.1L544.8 767.1L525.2 768.2L512.2 771.5L502.4 772.3L495.9 765.8L489.3 764.1L482.8 765.8L479.5 773.9L477.9 782.1L473.0 790.2L468.1 799.8L469.8 809.6L472.2 817.7L474.7 825.9L468.1 832.4L463.2 837.3L460.0 842.2L451.8 846.3L446.9 848.7L453.5 853.6L466.5 852.0L479.5 855.2L482.8 861.8L471.4 866.7L479.5 869.9L466.5 873.2L455.1 878.1L446.9 883.0L443.7 890.8L629.8 890.8L633.0 884.6L641.2 876.4L651.0 868.3L660.8 860.1L672.2 852.0L682.0 845.5L688.5 837.3L683.6 829.1L672.2 825.9L662.4 819.4L655.9 811.2L652.6 799.8L651.0 793.5L646.1 785.3L641.2 775.6L639.5 769.0L642.8 763.3L655.9 760.1L662.4 756.8L642.8 754.4L646.1 751.1L634.7 750.3L620.0 751.9L610.2 756.8L605.3 762.5L595.5 767.4L587.4 772.3L582.5 770.7L580.8 764.1L567.8 762.5L558.0 764.1Z" fill="#00ff00"/>
<ellipse cx="486.1" cy="761.2" rx="4.1" ry="1.0" fill="#00ff00"/>
<ellipse cx="568.6" cy="757.6" rx="4.1" ry="1.3" fill="#00ff00"/>
<ellipse cx="562.9" cy="768.2" rx="4.9" ry="1.3" fill="#00ffff"/>
<ellipse cx="561.3" cy="775.6" rx="4.1" ry="1.3" fill="#00ffff"/>
<ellipse cx="562.9" cy="786.2" rx="4.1" ry="1.6" fill="#00ffff"/>
<ellipse cx="586.5" cy="782.4" rx="6.2" ry="1.6" fill="#00ffff"/>
<ellipse cx="599.6" cy="773.1" rx="3.6" ry="4.1" fill="#00ffff"/>
<ellipse cx="603.7" cy="767.7" rx="3.3" ry="1.6" fill="#00ffff"/>
<ellipse cx="628.1" cy="778.8" rx="4.6" ry="1.6" fill="#00ffff"/>
<ellipse cx="628.1" cy="789.4" rx="6.2" ry="2.0" fill="#00ffff"/>
<ellipse cx="576.8" cy="796.8" rx="4.1" ry="1.6" fill="#00ffff"/>
<ellipse cx="612.6" cy="803.8" rx="4.9" ry="2.0" fill="#00ffff"/>
<ellipse cx="633.8" cy="803.8" rx="4.9" ry="2.0" fill="#00ffff"/>
<ellipse cx="576.8" cy="796.8" rx="2.0" ry="0.8" fill="#6699ff"/>
<ellipse cx="612.6" cy="803.8" rx="2.4" ry="1.0" fill="#6699ff"/>
<ellipse cx="633.8" cy="803.8" rx="2.4" ry="1.0" fill="#6699ff"/>
<path d="M489.3 790.2L502.4 788.6L512.2 790.2L522.0 787.0L539.9 786.2L549.7 787.8L558.0 796.8L558.0 798.4L564.5 800.0L567.8 796.8L580.8 798.4L590.6 801.7L603.7 799.2L606.9 804.9L613.5 807.4L629.8 806.5L636.3 809.8L644.4 816.3L651.0 822.9L655.9 830.0L660.8 832.4L675.4 834.0L678.7 838.9L672.2 847.1L662.4 855.2L652.6 863.4L642.8 871.5L634.7 879.7L628.1 887.9L626.5 890.8L466.5 890.8L469.8 883.0L474.7 876.4L481.2 869.9L486.1 861.8L482.8 856.9L477.9 852.0L479.5 843.8L481.2 835.7L484.4 830.8L489.3 827.5L486.9 819.4L483.6 809.6L482.8 799.8Z" fill="#ffff00"/>
<ellipse cx="580.8" cy="789.9" rx="9.0" ry="4.1" fill="#ffff00"/>
<ellipse cx="620.8" cy="796.8" rx="11.4" ry="1.3" fill="#ffff00"/>
<path d="M551.3 796.8L558.0 795.1L562.7 800.0L562.7 806.5L559.5 819.6L552.9 816.3L551.3 803.3Z" fill="#00ff00"/>
<path d="M486.9 830.8L491.8 829.1L493.4 838.9L494.2 855.2L486.9 855.2L486.1 842.2Z" fill="#00ff00"/>
<ellipse cx="490.2" cy="850.3" rx="3.3" ry="3.3" fill="#00ffff"/>
<ellipse cx="490.2" cy="850.3" rx="1.6" ry="1.6" fill="#6699ff"/>
<path d="M486.1 879.7L492.6 874.8L499.1 868.3L505.6 863.4L510.5 866.7L505.6 873.2L497.5 878.1L491.0 881.3Z" fill="#00ff00"/>
<ellipse cx="504.8" cy="868.8" rx="2.3" ry="1.3" fill="#00ffff"/>
<ellipse cx="497.5" cy="874.8" rx="2.3" ry="1.3" fill="#00ffff"/>
<ellipse cx="491.0" cy="879.4" rx="2.3" ry="1.3" fill="#00ffff"/>
<ellipse cx="533.4" cy="868.3" rx="6.5" ry="3.3" fill="#00ff00"/>
<ellipse cx="533.4" cy="868.6" rx="3.6" ry="1.6" fill="#00ffff"/>
<ellipse cx="533.4" cy="868.6" rx="1.6" ry="0.8" fill="#6699ff"/>
<ellipse cx="520.3" cy="878.9" rx="7.3" ry="2.4" fill="#00ff00"/>
<ellipse cx="520.3" cy="879.1" rx="4.6" ry="1.5" fill="#00ffff"/>
<ellipse cx="520.0" cy="879.1" rx="2.0" ry="0.8" fill="#0000ff"/>
<ellipse cx="613.5" cy="814.5" rx="3.6" ry="2.0" fill="#00ff00"/>
<ellipse cx="596.3" cy="814.1" rx="2.4" ry="0.7" fill="#00ff00"/>
<ellipse cx="598.0" cy="817.7" rx="2.9" ry="0.7" fill="#00ff00"/>
<ellipse cx="636.0" cy="823.4" rx="3.3" ry="2.9" fill="#00ff00"/>
<ellipse cx="604.5" cy="875.1" rx="1.6" ry="0.5" fill="#00ff00"/>
<ellipse cx="578.4" cy="807.5" rx="2.9" ry="0.7" fill="#ff6600"/>
<ellipse cx="533.4" cy="782.6" rx="2.0" ry="0.8" fill="#00ff00"/>
<ellipse cx="510.5" cy="790.2" rx="2.0" ry="0.8" fill="#00ff00"/>
<path d="M518.7 801.7L528.5 803.0L530.9 811.2L533.4 819.4L536.6 825.9L544.8 828.3L551.3 832.4L558.0 835.7L558.0 863.4L544.8 863.7L539.9 862.1L533.4 861.8L525.2 865.0L522.0 869.9L515.4 868.3L512.2 861.8L502.4 862.6L495.9 861.8L494.2 856.9L495.0 847.1L495.9 837.3L499.1 827.5L500.8 817.7L504.0 809.6L512.2 804.7Z" fill="#ff6600"/>
<path d="M554.7 827.5L561.3 822.6L567.8 816.9L574.3 817.7L579.2 822.6L580.8 827.5L585.7 830.0L587.4 833.2L616.7 834.0L621.6 831.6L628.1 833.2L631.4 837.3L659.1 838.1L660.8 842.2L655.9 845.5L662.4 848.7L654.2 852.0L660.8 855.2L652.6 858.5L651.0 863.4L644.4 866.7L637.9 868.3L595.5 869.9L584.1 871.5L577.6 876.4L561.3 879.7L562.1 890.8L528.5 890.8L528.5 885.4L536.6 884.6L539.9 878.1L543.2 869.9L541.5 863.4L544.8 860.1L551.3 855.2L552.9 847.1L551.3 838.9L549.7 832.4Z" fill="#ff6600"/>
<ellipse cx="533.4" cy="868.3" rx="6.5" ry="3.3" fill="#00ff00"/>
<ellipse cx="533.4" cy="868.6" rx="3.6" ry="1.6" fill="#00ffff"/>
<ellipse cx="533.4" cy="868.6" rx="1.6" ry="0.8" fill="#6699ff"/>
<ellipse cx="520.3" cy="878.9" rx="7.3" ry="2.4" fill="#00ff00"/>
<ellipse cx="520.3" cy="879.1" rx="4.6" ry="1.5" fill="#00ffff"/>
<ellipse cx="520.0" cy="879.1" rx="2.0" ry="0.8" fill="#0000ff"/>
<path d="M518.7 812.0L526.8 812.8L530.1 821.0L533.4 827.5L538.3 832.4L544.8 837.3L549.7 840.6L551.3 848.7L549.7 856.9L544.8 863.4L539.9 861.8L533.4 858.5L525.2 860.1L520.3 863.4L515.4 860.1L508.9 858.5L499.1 858.5L495.9 855.2L495.9 845.5L497.5 837.3L500.8 829.1L504.0 821.0L508.9 816.1Z" fill="#ff0000"/>
<path d="M556.4 837.3L564.5 833.2L574.3 831.6L587.4 834.9L598.8 838.9L602.0 843.8L598.8 850.3L593.9 856.9L587.4 861.8L579.2 868.3L567.8 870.7L558.0 870.7L555.6 861.8L554.7 850.3Z" fill="#ff0000"/>
<path d="M518.7 816.9L525.2 817.7L527.7 825.9L530.9 832.4L533.4 842.2L528.5 848.7L522.0 852.8L512.2 852.0L502.4 852.8L497.5 848.7L498.3 840.6L502.4 832.4L505.6 825.9L510.5 821.0Z" fill="#cc3300"/>
<path d="M562.9 845.5L571.0 846.3L573.5 850.3L571.0 858.5L566.2 863.4L561.3 861.8L560.4 853.6Z" fill="#cc3300"/>
<ellipse cx="555.4" cy="843.0" rx="1.3" ry="1.3" fill="#ffff00"/>
<ellipse cx="454.3" cy="780.5" rx="1.6" ry="2.9" fill="#fff" stroke="#0000ff" stroke-width="1.2"/>
<ellipse cx="446.9" cy="786.7" rx="2.4" ry="1.0" fill="#fff" stroke="#0000ff" stroke-width="1.2"/>
<ellipse cx="461.6" cy="786.7" rx="1.6" ry="1.0" fill="#fff" stroke="#0000ff" stroke-width="1.2"/>
<ellipse cx="443.7" cy="822.4" rx="4.9" ry="1.3" fill="#fff" stroke="#0000ff" stroke-width="1.2"/>
<ellipse cx="499.1" cy="739.4" rx="4.9" ry="0.8" fill="#fff" stroke="#0000ff" stroke-width="1.2"/>
<ellipse cx="451.8" cy="839.7" rx="4.1" ry="2.3" fill="#fff" stroke="#0000ff" stroke-width="1.2"/>
<ellipse cx="441.2" cy="852.8" rx="5.7" ry="2.0" fill="#fff" stroke="#0000ff" stroke-width="1.2"/>
<ellipse cx="436.3" cy="861.3" rx="4.9" ry="1.3" fill="#fff" stroke="#0000ff" stroke-width="1.2"/>
<ellipse cx="437.1" cy="871.9" rx="9.8" ry="0.8" fill="#fff" stroke="#0000ff" stroke-width="1.2"/>
<ellipse cx="450.2" cy="879.4" rx="4.1" ry="0.8" fill="#fff" stroke="#0000ff" stroke-width="1.2"/>
<ellipse cx="666.5" cy="796.4" rx="2.9" ry="0.8" fill="#fff" stroke="#0000ff" stroke-width="1.2"/>
<ellipse cx="468.1" cy="767.9" rx="2.0" ry="1.0" fill="#0000ff"/>
<ellipse cx="461.6" cy="775.6" rx="2.4" ry="1.0" fill="#0000ff"/>
<ellipse cx="455.1" cy="790.2" rx="4.1" ry="1.3" fill="#0000ff"/>
<ellipse cx="432.3" cy="846.8" rx="2.4" ry="1.6" fill="#0000ff"/>
<ellipse cx="424.9" cy="861.8" rx="3.3" ry="2.0" fill="#0000ff"/>
<ellipse cx="418.4" cy="871.5" rx="2.9" ry="1.3" fill="#0000ff"/>
<ellipse cx="468.1" cy="822.4" rx="2.9" ry="1.3" fill="#6699ff" stroke="#0000ff" stroke-width="1.4"/>
<ellipse cx="453.5" cy="857.7" rx="4.1" ry="1.3" fill="#6699ff" stroke="#0000ff" stroke-width="1.4"/>
<ellipse cx="455.1" cy="864.5" rx="3.3" ry="1.1" fill="#6699ff" stroke="#0000ff" stroke-width="1.4"/>
<ellipse cx="462.4" cy="868.3" rx="2.4" ry="1.1" fill="#6699ff" stroke="#0000ff" stroke-width="1.4"/>
<ellipse cx="475.5" cy="868.3" rx="3.3" ry="1.1" fill="#6699ff" stroke="#0000ff" stroke-width="1.4"/>
<ellipse cx="655.0" cy="775.6" rx="4.1" ry="1.1" fill="#6699ff" stroke="#0000ff" stroke-width="1.4"/>
<ellipse cx="465.7" cy="847.1" rx="5.7" ry="1.8" fill="#0000ff" transform="rotate(-38 465.7 847.1)"/>
</g>
<g transform="translate(-12.7 652.4)">
<path d="M109.7 11.2V241.4" stroke="#000" stroke-width="2" fill="none"/>
<path d="M101.2 12.2H109.7M101.2 40.8H109.7M101.2 69.3H109.7M101.2 97.9H109.7M101.2 126.4H109.7M101.2 155.0H109.7M101.2 183.6H109.7M101.2 212.1H109.7M101.2 240.7H109.7" stroke="#000" stroke-width="1.9" fill="none"/>
<path d="M116.3 26.8H833.4V238.1H116.3" stroke="#000" stroke-width="2.2" fill="none"/>
<path d="M181.0 18.3V26.8M181.0 238V246.3M252.7 18.3V26.8M252.7 238V246.3M324.4 18.3V26.8M324.4 238V246.3M396.2 18.3V26.8M396.2 238V246.3M467.9 18.3V26.8M467.9 238V246.3M539.6 18.3V26.8M539.6 238V246.3M611.3 18.3V26.8M611.3 238V246.3M683.0 18.3V26.8M683.0 238V246.3M754.8 18.3V26.8M754.8 238V246.3M826.5 18.3V26.8M826.5 238V246.3M833.4 98.1H842.8M833.4 169.5H842.8" stroke="#000" stroke-width="1.9" fill="none"/>
<text transform="translate(100.9 22.2) scale(1 1.065)" text-anchor="end">16</text>
<text transform="translate(100.9 79.3) scale(1 1.065)" text-anchor="end">12</text>
<text transform="translate(100.9 136.4) scale(1 1.065)" text-anchor="end">8</text>
<text transform="translate(100.9 193.6) scale(1 1.065)" text-anchor="end">4</text>
<text transform="translate(100.9 250.7) scale(1 1.065)" text-anchor="end">0</text>
<text transform="translate(180.0 272.9) scale(1 1.065)" text-anchor="middle">5</text>
<text transform="translate(251.7 272.9) scale(1 1.065)" text-anchor="middle">10</text>
<text transform="translate(323.4 272.9) scale(1 1.065)" text-anchor="middle">15</text>
<text transform="translate(395.2 272.9) scale(1 1.065)" text-anchor="middle">20</text>
<text transform="translate(466.9 272.9) scale(1 1.065)" text-anchor="middle">25</text>
<text transform="translate(538.6 272.9) scale(1 1.065)" text-anchor="middle">30</text>
<text transform="translate(610.3 272.9) scale(1 1.065)" text-anchor="middle">35</text>
<text transform="translate(682.0 272.9) scale(1 1.065)" text-anchor="middle">40</text>
<text transform="translate(753.8 272.9) scale(1 1.065)" text-anchor="middle">45</text>
<text transform="translate(825.5 272.9) scale(1 1.065)" text-anchor="middle">50</text>
</g>
<text transform="translate(122.1 728.4) scale(1.003 1.075)">27.5 MIN.</text>
<text x="540.1" y="961.3" text-anchor="middle">Horizontal distance (km)</text>
<text transform="translate(25.2 788.6) rotate(-90) scale(1.012 1.075)" text-anchor="middle">Height (km)</text>
</g>
<g id="panel4">
<g shape-rendering="crispEdges">
<path d="M568.0 1041.3L553.5 1043.1L539.1 1044.9L533.7 1048.5L517.6 1049.0L512.2 1045.8L501.4 1041.8L488.9 1042.5L470.9 1045.8L458.4 1049.4L452.1 1052.9L453.0 1058.3L459.3 1061.0L456.6 1065.5L463.8 1069.1L470.9 1072.7L474.5 1081.6L485.3 1082.5L478.1 1084.3L460.2 1085.2L459.3 1087.9L465.6 1089.7L451.2 1092.7L458.4 1096.3L460.2 1101.7L465.6 1104.4L462.0 1107.0L461.1 1112.4L451.2 1114.2L444.9 1116.0L444.9 1119.6L453.0 1120.5L460.2 1118.7L469.1 1119.6L485.3 1117.8L470.9 1122.3L462.0 1126.8L458.4 1129.5L463.8 1133.1L465.6 1136.6L460.2 1137.5L453.0 1134.9L444.9 1135.7L444.0 1141.1L451.2 1142.9L453.0 1145.6L445.8 1144.7L443.1 1147.4L445.8 1150.1L454.8 1149.2L456.6 1156.4L469.1 1156.7L470.9 1159.1L453.0 1160.0L451.2 1162.7L456.6 1164.5L476.3 1165.0L476.3 1166.8L458.4 1167.1L445.8 1167.5L444.9 1169.8L451.2 1170.4L442.2 1171.1L437.7 1172.5L444.0 1174.3L445.8 1177.9L463.8 1178.3L460.2 1180.6L445.8 1180.6L436.9 1182.4L436.0 1185.1L442.2 1185.1L440.4 1187.8L415.3 1188.3L397.4 1188.7L393.8 1190.5L397.4 1192.6L415.3 1193.2L417.1 1194.1L401.0 1195.0L395.6 1195.9L395.6 1198.4L655.7 1198.4L671.9 1195.0L662.9 1193.2L671.9 1191.4L673.6 1187.8L684.4 1183.3L688.0 1177.9L695.2 1175.2L697.0 1171.6L704.1 1169.8L704.1 1167.1L711.3 1163.6L713.1 1159.1L718.5 1154.6L720.3 1145.6L725.7 1142.9L723.9 1139.3L729.3 1134.0L725.7 1126.8L731.1 1123.2L727.5 1120.9L704.1 1121.9L695.2 1119.6L689.8 1116.0L688.0 1110.6L675.4 1107.9L684.4 1107.0L688.0 1103.5L689.8 1096.0L696.1 1093.3L691.6 1091.5L677.2 1088.8L689.8 1086.1L682.6 1082.5L689.8 1079.9L688.0 1073.6L691.6 1070.0L702.4 1067.3L704.1 1064.6L716.7 1061.0L732.9 1058.3L739.1 1053.8L732.9 1052.0L729.3 1048.5L718.5 1048.5L716.7 1051.1L697.9 1052.0L697.0 1046.7L691.6 1044.3L607.3 1044.9L604.6 1048.5L595.6 1048.5L592.9 1045.8L583.9 1044.0L580.4 1041.8L566.0 1041.3Z" fill="#6699ff" stroke="#0000ff" stroke-width="1.6" stroke-linejoin="round"/>
<ellipse cx="462.5" cy="1079.0" rx="3.9" ry="1.6" fill="#6699ff" stroke="#0000ff" stroke-width="1.4"/>
<ellipse cx="444.4" cy="1107.7" rx="6.8" ry="1.8" fill="#6699ff" stroke="#0000ff" stroke-width="1.4"/>
<ellipse cx="448.2" cy="1128.8" rx="3.9" ry="2.2" fill="#6699ff" stroke="#0000ff" stroke-width="1.4"/>
<path d="M568.0 1047.9L535.5 1052.0L514.0 1052.9L492.5 1052.0L476.3 1052.9L469.1 1056.5L478.1 1061.9L487.1 1067.3L492.5 1073.6L488.9 1079.9L485.3 1087.0L481.7 1094.2L478.1 1103.5L479.9 1110.6L476.3 1116.0L485.3 1116.9L487.1 1120.5L476.3 1123.2L467.4 1126.8L465.6 1132.2L469.1 1137.5L463.8 1141.1L456.6 1142.9L458.4 1151.0L470.9 1152.8L474.5 1155.5L470.9 1158.2L478.1 1161.8L481.7 1167.1L467.4 1169.8L453.0 1174.3L449.4 1177.9L467.4 1177.9L463.8 1181.5L447.6 1182.4L444.0 1186.9L436.9 1191.4L427.9 1198.4L653.9 1198.4L662.9 1192.3L673.6 1185.1L684.4 1177.9L691.6 1170.7L698.8 1165.4L707.7 1160.0L713.1 1152.8L716.7 1143.8L718.5 1135.7L714.9 1128.6L705.9 1125.0L691.6 1123.2L680.8 1116.9L677.2 1104.4L677.2 1103.2L673.6 1096.0L675.4 1088.8L673.6 1081.6L659.3 1079.0L673.6 1076.3L680.8 1072.7L691.6 1067.3L698.8 1063.7L709.5 1061.0L718.5 1056.5L709.5 1057.4L684.4 1056.5L691.6 1054.7L688.0 1050.2L673.6 1048.5L637.8 1049.4L619.8 1052.0L592.9 1052.0L566.0 1048.5Z" fill="#00ffff"/>
<path d="M472.7 1154.6L485.3 1156.4L492.5 1165.4L499.6 1170.7L497.9 1177.9L487.1 1179.7L478.1 1174.3L474.5 1165.4Z" fill="#6699ff"/>
<path d="M568.0 1070.9L553.5 1070.0L539.1 1069.1L524.8 1071.8L508.6 1073.6L497.9 1071.8L494.3 1078.1L490.7 1087.0L488.9 1096.0L487.1 1107.0L488.9 1116.0L490.7 1121.4L488.0 1130.4L488.9 1137.5L481.7 1142.0L478.1 1145.6L463.8 1147.4L462.9 1151.9L470.9 1151.0L481.7 1149.2L492.5 1152.8L499.6 1158.2L501.4 1165.4L497.9 1172.5L488.9 1174.3L476.3 1176.1L469.1 1179.7L470.9 1186.9L463.8 1190.5L467.4 1198.4L650.3 1198.4L659.3 1190.5L671.9 1183.3L680.8 1176.1L689.8 1167.1L698.8 1161.8L705.9 1156.4L711.3 1147.4L705.9 1142.9L691.6 1141.1L680.8 1136.6L677.2 1128.6L671.9 1121.4L668.3 1113.3L664.7 1105.0L661.1 1096.0L655.7 1087.0L653.0 1078.1L655.7 1070.0L666.5 1067.3L673.6 1064.6L662.9 1061.9L641.4 1061.9L630.6 1063.7L625.2 1069.1L609.1 1070.9L601.9 1073.6L583.9 1074.5L573.2 1073.6L566.0 1070.9Z" fill="#00ff00"/>
<ellipse cx="650.3" cy="1058.3" rx="8.1" ry="1.1" fill="#00ff00"/>
<ellipse cx="584.8" cy="1068.7" rx="2.2" ry="0.7" fill="#00ff00"/>
<ellipse cx="606.4" cy="1064.6" rx="1.8" ry="0.7" fill="#00ff00"/>
<ellipse cx="500.5" cy="1068.7" rx="3.2" ry="0.7" fill="#00ff00"/>
<ellipse cx="573.2" cy="1083.1" rx="7.2" ry="2.2" fill="#00ffff"/>
<ellipse cx="610.9" cy="1082.5" rx="13.5" ry="2.2" fill="#00ffff"/>
<ellipse cx="605.5" cy="1089.4" rx="3.6" ry="1.3" fill="#00ffff"/>
<ellipse cx="639.6" cy="1089.4" rx="6.3" ry="1.8" fill="#00ffff"/>
<ellipse cx="571.4" cy="1094.2" rx="5.4" ry="2.7" fill="#00ffff"/>
<ellipse cx="641.4" cy="1099.9" rx="3.9" ry="1.4" fill="#00ffff"/>
<ellipse cx="648.5" cy="1111.6" rx="4.5" ry="1.8" fill="#00ffff"/>
<ellipse cx="657.5" cy="1066.9" rx="2.2" ry="0.9" fill="#00ffff"/>
<ellipse cx="605.5" cy="1111.2" rx="2.7" ry="0.9" fill="#00ffff"/>
<ellipse cx="569.6" cy="1093.8" rx="2.2" ry="1.1" fill="#6699ff"/>
<ellipse cx="504.1" cy="1158.2" rx="3.9" ry="3.9" fill="#00ffff"/>
<path d="M492.5 1158.2L499.6 1156.4L503.2 1165.4L499.6 1172.5L494.3 1168.9Z" fill="#6699ff"/>
<path d="M524.8 1092.4L535.5 1088.8L544.5 1085.2L551.7 1087.0L555.3 1094.2L564.2 1099.6L566.0 1104.1L580.4 1102.8L589.3 1105.9L596.5 1112.1L600.1 1119.3L605.5 1120.2L612.6 1117.5L619.8 1122.9L627.0 1119.3L628.8 1114.8L641.4 1113.9L644.9 1117.5L648.5 1126.5L653.9 1128.3L652.1 1124.7L659.3 1124.7L666.5 1131.9L673.6 1137.3L680.8 1140.0L691.6 1142.6L695.2 1146.2L688.0 1152.8L682.6 1161.8L673.6 1170.7L668.3 1176.1L659.3 1183.3L650.3 1190.5L644.9 1198.4L470.9 1198.4L476.3 1192.3L485.3 1186.9L492.5 1181.5L499.6 1176.1L506.8 1170.7L508.6 1161.8L506.8 1149.2L503.2 1140.2L501.4 1130.4L499.6 1120.5L503.2 1113.3L510.4 1106.1L515.8 1097.2Z" fill="#ffff00"/>
<ellipse cx="610.0" cy="1104.1" rx="5.0" ry="1.4" fill="#ffff00"/>
<ellipse cx="608.2" cy="1107.7" rx="2.7" ry="0.9" fill="#ffff00"/>
<path d="M566.0 1113.9L576.8 1114.8L579.5 1119.3L575.0 1124.7L578.6 1131.9L575.0 1136.4L566.0 1135.5L560.6 1131.9L561.5 1119.3Z" fill="#00ff00"/>
<ellipse cx="570.5" cy="1118.4" rx="5.0" ry="2.5" fill="#00ffff"/>
<ellipse cx="570.5" cy="1118.4" rx="3.6" ry="1.8" fill="#6699ff"/>
<ellipse cx="570.5" cy="1118.4" rx="1.8" ry="0.9" fill="#0000ff"/>
<ellipse cx="599.2" cy="1122.9" rx="3.6" ry="2.2" fill="#00ff00"/>
<path d="M558.9 1104.1L568.0 1102.3L568.0 1112.1L560.6 1112.1Z" fill="#00ff00"/>
<ellipse cx="627.9" cy="1182.4" rx="3.6" ry="1.1" fill="#00ff00"/>
<ellipse cx="621.6" cy="1186.9" rx="3.6" ry="1.1" fill="#00ff00"/>
<ellipse cx="634.2" cy="1190.1" rx="3.6" ry="1.4" fill="#00ff00"/>
<ellipse cx="626.1" cy="1194.1" rx="2.2" ry="1.1" fill="#00ff00"/>
<ellipse cx="673.6" cy="1173.4" rx="2.7" ry="0.7" fill="#00ff00"/>
<ellipse cx="492.5" cy="1189.0" rx="7.2" ry="1.4" fill="#00ff00"/>
<ellipse cx="536.4" cy="1186.9" rx="7.5" ry="1.4" fill="#00ff00"/>
<ellipse cx="533.7" cy="1190.5" rx="2.2" ry="0.7" fill="#00ff00"/>
<path d="M497.0 1186.0L503.2 1182.4L514.0 1180.6L515.8 1183.3L508.6 1186.0L499.6 1187.8Z" fill="#00ff00"/>
<path d="M531.0 1184.2L535.5 1177.9L540.0 1184.2Z" fill="#00ff00"/>
<ellipse cx="504.1" cy="1158.2" rx="3.9" ry="3.9" fill="#00ffff"/>
<path d="M539.1 1100.4L544.5 1102.9L548.1 1110.6L549.9 1121.4L551.7 1132.2L555.3 1141.1L562.4 1142.9L568.0 1140.6L572.3 1140.2L573.2 1149.2L571.4 1158.2L566.9 1161.8L560.6 1167.1L553.5 1176.1L548.1 1174.3L544.5 1167.1L540.9 1161.8L535.5 1167.1L528.4 1172.5L517.6 1173.4L510.4 1168.9L509.5 1161.8L510.4 1147.4L514.0 1142.0L517.6 1132.2L521.2 1123.2L526.6 1114.2L531.9 1107.0Z" fill="#ff6600"/>
<path d="M583.9 1125.9L591.1 1124.1L594.7 1128.6L596.5 1135.7L605.5 1139.3L619.8 1142.0L634.2 1143.8L641.4 1147.4L649.4 1151.9L648.5 1163.6L641.4 1165.4L619.8 1165.4L610.9 1170.7L601.9 1176.1L591.1 1179.7L583.9 1185.1L578.6 1192.3L575.0 1194.1L571.4 1186.9L571.4 1177.9L576.8 1167.1L580.4 1156.4L582.1 1143.8L583.9 1134.9Z" fill="#ff6600"/>
<ellipse cx="577.1" cy="1147.1" rx="2.2" ry="1.1" fill="#00ff00"/>
<ellipse cx="577.1" cy="1151.0" rx="1.8" ry="0.9" fill="#00ff00"/>
<ellipse cx="577.1" cy="1154.6" rx="1.4" ry="0.7" fill="#00ff00"/>
<ellipse cx="539.1" cy="1100.5" rx="3.6" ry="0.7" fill="#ff6600"/>
<path d="M537.3 1110.6L542.7 1114.2L544.5 1125.0L546.3 1135.7L549.9 1143.8L551.7 1154.6L546.3 1160.0L539.1 1160.9L533.7 1165.4L524.8 1168.9L515.8 1167.1L511.3 1161.8L514.0 1149.2L517.6 1142.0L521.2 1133.1L524.8 1125.9L528.4 1119.6L533.7 1114.2Z" fill="#ff0000"/>
<path d="M585.7 1142.9L594.7 1142.0L603.7 1145.6L601.9 1152.8L598.3 1161.8L592.9 1168.9L585.7 1176.1L578.6 1177.0L578.6 1170.7L582.1 1160.0L583.9 1151.0Z" fill="#ff0000"/>
<ellipse cx="568.7" cy="1147.1" rx="1.4" ry="0.9" fill="#ff0000"/>
<path d="M535.5 1119.6L539.1 1125.0L540.9 1135.7L544.5 1144.7L544.5 1152.8L539.1 1158.2L531.9 1161.8L521.2 1162.7L515.8 1160.0L517.6 1151.0L521.2 1143.8L524.8 1135.7L528.4 1128.6L531.9 1123.2Z" fill="#cc3300"/>
<ellipse cx="588.4" cy="1156.7" rx="2.2" ry="0.7" fill="#cc3300"/>
<ellipse cx="587.5" cy="1161.2" rx="3.6" ry="0.9" fill="#cc3300"/>
<ellipse cx="525.7" cy="1047.0" rx="9.0" ry="1.4" fill="#fff" stroke="#0000ff" stroke-width="1.2"/>
<ellipse cx="469.1" cy="1093.3" rx="2.7" ry="1.1" fill="#fff" stroke="#0000ff" stroke-width="1.2"/>
<ellipse cx="600.1" cy="1046.7" rx="3.6" ry="1.3" fill="#fff" stroke="#0000ff" stroke-width="1.2"/>
<ellipse cx="406.4" cy="1193.7" rx="9.9" ry="0.7" fill="#fff" stroke="#0000ff" stroke-width="1.2"/>
<ellipse cx="454.8" cy="1183.7" rx="2.5" ry="1.8" fill="#fff" stroke="#0000ff" stroke-width="1.2"/>
<ellipse cx="467.4" cy="1122.3" rx="6.3" ry="1.4" fill="#fff" stroke="#0000ff" stroke-width="1.2"/>
<ellipse cx="461.1" cy="1134.9" rx="3.6" ry="2.2" fill="#fff" stroke="#0000ff" stroke-width="1.2"/>
<ellipse cx="483.5" cy="1072.3" rx="2.7" ry="1.4" fill="#6699ff" stroke="#0000ff" stroke-width="1.4"/>
<ellipse cx="470.0" cy="1107.7" rx="3.2" ry="1.4" fill="#6699ff" stroke="#0000ff" stroke-width="1.4"/>
<ellipse cx="497.9" cy="1143.5" rx="2.7" ry="2.7" fill="#6699ff" stroke="#0000ff" stroke-width="1.4"/>
<ellipse cx="477.2" cy="1151.0" rx="2.5" ry="2.5" fill="#6699ff" stroke="#0000ff" stroke-width="1.4"/>
<ellipse cx="497.9" cy="1168.0" rx="2.7" ry="1.4" fill="#6699ff" stroke="#0000ff" stroke-width="1.4"/>
<ellipse cx="470.0" cy="1186.3" rx="3.6" ry="1.4" fill="#6699ff" stroke="#0000ff" stroke-width="1.4"/>
<ellipse cx="477.2" cy="1132.8" rx="3.2" ry="1.4" fill="#0000ff"/>
<ellipse cx="484.4" cy="1118.4" rx="1.4" ry="0.9" fill="#0000ff"/>
<ellipse cx="434.2" cy="1161.4" rx="3.9" ry="1.4" fill="#0000ff"/>
<ellipse cx="451.2" cy="1168.6" rx="5.4" ry="1.4" fill="#0000ff"/>
<ellipse cx="441.3" cy="1172.2" rx="3.9" ry="1.4" fill="#0000ff"/>
<ellipse cx="491.6" cy="1177.4" rx="4.5" ry="1.8" fill="#0000ff"/>
<ellipse cx="484.4" cy="1159.1" rx="2.2" ry="1.8" fill="#0000ff"/>
<ellipse cx="497.9" cy="1143.5" rx="1.1" ry="1.1" fill="#0000ff"/>
<path d="M717.6 1049.0L728.4 1048.5L730.7 1051.5L718.5 1052.2Z" fill="#0000ff"/>
<path d="M723.9 1124.4L728.4 1123.7L730.2 1133.1L725.7 1135.7L723.5 1130.4Z" fill="#0000ff"/>
<path d="M720.3 1141.7L725.7 1142.0L724.8 1144.2L720.7 1144.7Z" fill="#0000ff"/>
</g>
<g transform="translate(-19 960)">
<path d="M109.7 11.2V241.4" stroke="#000" stroke-width="2" fill="none"/>
<path d="M101.2 12.2H109.7M101.2 40.8H109.7M101.2 69.3H109.7M101.2 97.9H109.7M101.2 126.4H109.7M101.2 155.0H109.7M101.2 183.6H109.7M101.2 212.1H109.7M101.2 240.7H109.7" stroke="#000" stroke-width="1.9" fill="none"/>
<path d="M116.3 26.8H833.4V238.1H116.3" stroke="#000" stroke-width="2.2" fill="none"/>
<path d="M181.0 18.3V26.8M181.0 238V246.3M252.7 18.3V26.8M252.7 238V246.3M324.4 18.3V26.8M324.4 238V246.3M396.2 18.3V26.8M396.2 238V246.3M467.9 18.3V26.8M467.9 238V246.3M539.6 18.3V26.8M539.6 238V246.3M611.3 18.3V26.8M611.3 238V246.3M683.0 18.3V26.8M683.0 238V246.3M754.8 18.3V26.8M754.8 238V246.3M826.5 18.3V26.8M826.5 238V246.3M833.4 98.1H842.8M833.4 169.5H842.8" stroke="#000" stroke-width="1.9" fill="none"/>
<text transform="translate(100.9 22.2) scale(1 1.065)" text-anchor="end">16</text>
<text transform="translate(100.9 79.3) scale(1 1.065)" text-anchor="end">12</text>
<text transform="translate(100.9 136.4) scale(1 1.065)" text-anchor="end">8</text>
<text transform="translate(100.9 193.6) scale(1 1.065)" text-anchor="end">4</text>
<text transform="translate(100.9 250.7) scale(1 1.065)" text-anchor="end">0</text>
<text transform="translate(180.0 272.9) scale(1 1.065)" text-anchor="middle">5</text>
<text transform="translate(251.7 272.9) scale(1 1.065)" text-anchor="middle">10</text>
<text transform="translate(323.4 272.9) scale(1 1.065)" text-anchor="middle">15</text>
<text transform="translate(395.2 272.9) scale(1 1.065)" text-anchor="middle">20</text>
<text transform="translate(466.9 272.9) scale(1 1.065)" text-anchor="middle">25</text>
<text transform="translate(538.6 272.9) scale(1 1.065)" text-anchor="middle">30</text>
<text transform="translate(610.3 272.9) scale(1 1.065)" text-anchor="middle">35</text>
<text transform="translate(682.0 272.9) scale(1 1.065)" text-anchor="middle">40</text>
<text transform="translate(753.8 272.9) scale(1 1.065)" text-anchor="middle">45</text>
<text transform="translate(825.5 272.9) scale(1 1.065)" text-anchor="middle">50</text>
</g>
<text transform="translate(115.2 1034.3) scale(1.003 1.075)">30.0 MIN.</text>
<text x="505.9" y="1283.7" text-anchor="middle">Horizontal distance (km)</text>
<text transform="translate(21.8 1078.3) rotate(-90) scale(1.012 1.075)" text-anchor="middle">Height (km)</text>
</g>
<g id="colorbar">
<rect x="880.5" y="496.20" width="30.2" height="40.23" fill="#cc3300"/>
<rect x="880.5" y="535.93" width="30.2" height="40.23" fill="#ff0000"/>
<rect x="880.5" y="575.66" width="30.2" height="40.23" fill="#ff6600"/>
<rect x="880.5" y="615.39" width="30.2" height="40.23" fill="#ffff00"/>
<rect x="880.5" y="655.12" width="30.2" height="40.23" fill="#ffff00"/>
<rect x="880.5" y="694.85" width="30.2" height="40.23" fill="#00ff00"/>
<rect x="880.5" y="734.58" width="30.2" height="40.23" fill="#00ff00"/>
<rect x="880.5" y="774.31" width="30.2" height="40.23" fill="#00ffff"/>
<rect x="880.5" y="814.04" width="30.2" height="40.23" fill="#00ffff"/>
<rect x="880.5" y="853.77" width="30.2" height="40.23" fill="#6699ff"/>
<rect x="880.5" y="893.50" width="30.2" height="40.23" fill="#6699ff"/>
<rect x="880.5" y="933.23" width="30.2" height="40.23" fill="#0000ff"/>
<text transform="translate(918.2 546.1) scale(1 1.065)">60</text>
<text transform="translate(918.2 585.9) scale(1 1.065)">55</text>
<text transform="translate(918.2 625.6) scale(1 1.065)">50</text>
<text transform="translate(918.2 665.3) scale(1 1.065)">45</text>
<text transform="translate(918.2 705.0) scale(1 1.065)">40</text>
<text transform="translate(918.2 744.8) scale(1 1.065)">35</text>
<text transform="translate(918.2 784.5) scale(1 1.065)">30</text>
<text transform="translate(918.2 824.2) scale(1 1.065)">25</text>
<text transform="translate(918.2 864.0) scale(1 1.065)">20</text>
<text transform="translate(918.2 903.7) scale(1 1.065)">15</text>
<text transform="translate(918.2 943.4) scale(1 1.065)">10</text>
<text transform="translate(918.2 983.2) scale(1 1.065)">5</text>
<text transform="translate(847.0 468.4) scale(1.02 1.07)">Ref. (dBZ)</text>
</g>
</svg></body></html>
